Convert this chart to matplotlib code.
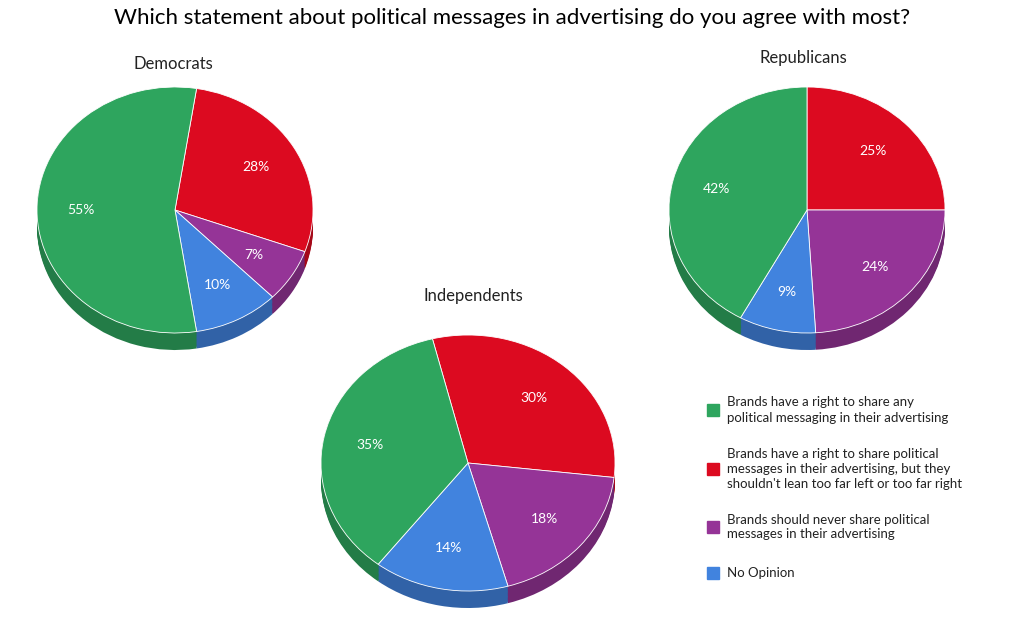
import numpy as np
import matplotlib
matplotlib.use("Agg")
import matplotlib.pyplot as plt
from matplotlib.patches import Rectangle
from matplotlib.colors import to_rgb

plt.rcParams['font.family'] = ['Lato', 'DejaVu Sans']

categories = [
    "Brands have a right to share any\npolitical messaging in their advertising",
    "Brands have a right to share political\nmessages in their advertising, but they\nshouldn't lean too far left or too far right",
    "Brands should never share political\nmessages in their advertising",
    "No Opinion",
]
colors = ["#2ea55e", "#dc0a20", "#953497", "#4183de"]

# clockwise order starting from the top: red, purple, blue, green
dem = [28, 7, 10, 55]
rep = [25, 24, 9, 42]
ind = [31, 19, 15, 36]
order_colors = [colors[1], colors[2], colors[3], colors[0]]

W, H = 1024, 618
fig = plt.figure(figsize=(W / 100, H / 100), dpi=100)


def pie3d(x0, y0, rx, ry, depth, values, start, title, tx, ty):
    dep = depth / ry
    ax = fig.add_axes([x0 / W, 1 - (y0 + 2 * ry + depth) / H, 2 * rx / W, (2 * ry + depth) / H])
    dark = [tuple(c * 0.75 for c in to_rgb(col)) for col in order_colors]
    for d in np.linspace(dep, 0.005, 14):
        ax.pie(values, colors=dark, startangle=start, counterclock=False,
               center=(0, -d), radius=1, wedgeprops=dict(linewidth=0))
    ax.pie(values, colors=order_colors, startangle=start, counterclock=False,
           center=(0, 0), radius=1, autopct='%d%%', pctdistance=0.68,
           textprops=dict(color='white', fontsize=10),
           wedgeprops=dict(edgecolor='white', linewidth=0.6))
    ax.set_aspect('auto')
    ax.set_xlim(-1, 1)
    ax.set_ylim(-1 - dep, 1)
    ax.axis('off')
    fig.text(tx / W, 1 - ty / H, title, ha='center', va='center', fontsize=12, color='#222222')


pie3d(37, 87, 138, 123, 17, dem, 81, "Democrats", 173, 64)
pie3d(669, 87, 138, 123, 17, rep, 90, "Republicans", 803, 58)
pie3d(321, 335, 147, 128, 17, ind, 104, "Independents", 473, 296)

fig.text(0.5, 1 - 18 / H, "Which statement about political messages in advertising do you agree with most?",
         ha='center', va='center', fontsize=16, color='black')

legend_y = [410, 469, 527, 573]
for lab, col, ly in zip(categories, colors, legend_y):
    fig.patches.append(Rectangle(((707) / W, 1 - (ly + 6) / H), 12 / W, 12 / H,
                                 transform=fig.transFigure, color=col))
    fig.text(727 / W, 1 - ly / H, lab, ha='left', va='center', fontsize=9.5,
             color='#222222', linespacing=1.3)

fig.savefig("out.png", dpi=100)
